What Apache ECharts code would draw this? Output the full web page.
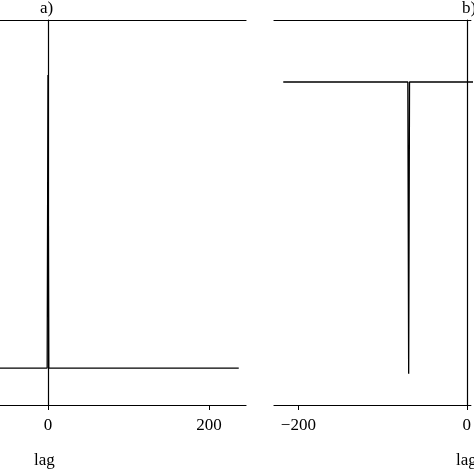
<!DOCTYPE html>
<html>
<head>
<meta charset="UTF-8">
<script src="https://cdn.jsdelivr.net/npm/echarts@6/dist/echarts.min.js"></script>
</head>
<body style="margin:0">
<div id="c" style="width:474px;height:474px;background:#fff"></div>
<script>
// panel a: flat line with upward spike at lag 0
var lagA = [-300, -1, 0, 1, 237];
var ampA = [0.096, 0.096, 0.857, 0.096, 0.096];
// panel b: flat line with downward spike near lag -69
var lagB = [-218, -70, -69, -68, 300];
var ampB = [0.839, 0.839, 0.081, 0.839, 0.839];
var ticksA = [0, 200];
var ticksB = [-200, 0];

var font = 'Liberation Serif';
var line = { show: true, lineStyle: { color: '#000', width: 1.2 } };
function pairs(x, y) { return x.map(function (v, i) { return [v, y[i]]; }); }
function xAx(idx, min, max, ticks) {
  return {
    gridIndex: idx, type: 'value', min: min, max: max,
    splitLine: { show: false },
    axisLine: line,
    axisTick: { customValues: ticks, length: 5, lineStyle: { color: '#000' } },
    axisLabel: { customValues: ticks, fontFamily: font, fontSize: 17, color: '#000', margin: 12,
      formatter: function (v) { return String(v).replace('-', '\u2212'); } }
  };
}
function xTop(idx, min, max) {
  return { gridIndex: idx, type: 'value', position: 'top', min: min, max: max,
    axisLine: line, axisTick: { show: false }, axisLabel: { show: false }, splitLine: { show: false } };
}
function yAx(idx, pos) {
  return { gridIndex: idx, type: 'value', min: 0, max: 1, position: pos,
    axisLine: line, axisTick: { show: false }, axisLabel: { show: false }, splitLine: { show: false } };
}
var chart = echarts.init(document.getElementById('c'));
chart.setOption({
  animation: false,
  grid: [
    { left: 0, top: 20, width: 246, height: 385 },
    { left: 274, top: 20, width: 200, height: 385 }
  ],
  xAxis: [xAx(0, -59.6, 246, ticksA), xAx(1, -229, 4.9, ticksB), xTop(0, -59.6, 246), xTop(1, -229, 4.9)],
  yAxis: [yAx(0, 'right'), yAx(1, 'left')],
  graphic: [
    { type: 'text', left: 40, top: 0, style: { text: 'a)', font: '17px "Liberation Serif"', fill: '#000' } },
    { type: 'text', left: 462, top: 0, style: { text: 'b)', font: '17px "Liberation Serif"', fill: '#000' } },
    { type: 'text', left: 34, top: 452, style: { text: 'lag', font: '17px "Liberation Serif"', fill: '#000' } },
    { type: 'text', left: 456, top: 452, style: { text: 'lag', font: '17px "Liberation Serif"', fill: '#000' } }
  ],
  series: [
    { type: 'line', xAxisIndex: 0, yAxisIndex: 0, data: pairs(lagA, ampA), symbol: 'none',
      lineStyle: { color: '#000', width: 1.3 } },
    { type: 'line', xAxisIndex: 1, yAxisIndex: 1, data: pairs(lagB, ampB), symbol: 'none',
      lineStyle: { color: '#000', width: 1.3 } }
  ]
});
</script>
</body>
</html>
